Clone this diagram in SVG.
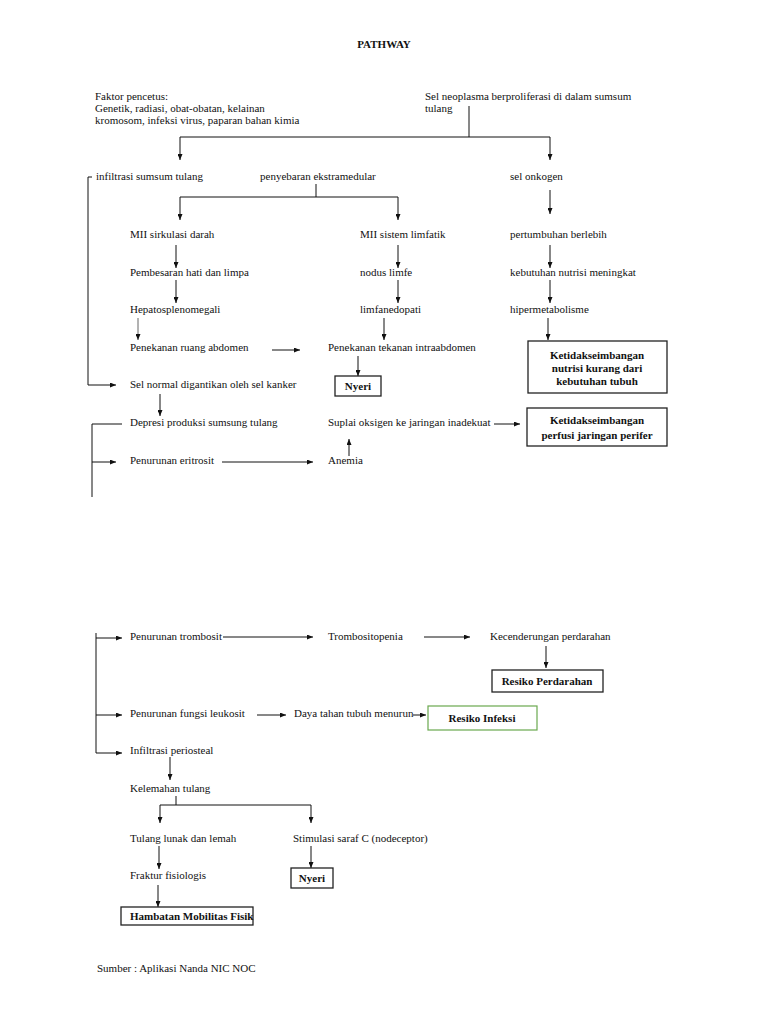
<svg xmlns="http://www.w3.org/2000/svg" width="768" height="1024" viewBox="0 0 768 1024">
<style>
text{font-family:"Liberation Serif","Times New Roman",serif;font-size:11px;fill:#111}
.b{font-weight:bold}
.c{text-anchor:middle}
.ln{fill:none;stroke:#111;stroke-width:1}
.ar{fill:none;stroke:#111;stroke-width:1;marker-end:url(#ah)}
.box{fill:#fff;stroke:#222;stroke-width:1.3}
</style>
<defs>
<marker id="ah" markerUnits="userSpaceOnUse" markerWidth="6" markerHeight="5" refX="6" refY="2.5" orient="auto">
<path d="M0,0 L6,2.5 L0,5 z" fill="#111"/>
</marker>
</defs>
<rect width="768" height="1024" fill="#fff"/>
<text class="b c" x="384" y="48">PATHWAY</text>

<g id="connectors">
<path class="ln" d="M469,106 V137 M180,137 H550"/>
<path class="ar" d="M180,137 V160"/>
<path class="ar" d="M550,137 V160"/>
<path class="ln" d="M316,184 V197 M180,197 H398"/>
<path class="ar" d="M180,197 V220"/>
<path class="ar" d="M398,197 V220"/>
<path class="ar" d="M550,190 V214"/>
<path class="ar" d="M176,245 V268"/>
<path class="ar" d="M398,245 V268"/>
<path class="ar" d="M550,245 V268"/>
<path class="ar" d="M176,280 V303"/>
<path class="ar" d="M398,280 V303"/>
<path class="ar" d="M550,280 V303"/>
<path class="ar" d="M138,318 V340" style="stroke:#666"/>
<path class="ar" d="M384,318 V340"/>
<path class="ar" d="M548,318 V340"/>
<path class="ar" d="M272,350 H300"/>
<path class="ar" d="M358,356 V376"/>
<path class="ar" d="M92,177 H88 V385 H116"/>
<path class="ar" d="M160,394 V416"/>
<path class="ln" d="M122,424 H92 V497"/>
<path class="ar" d="M92,462 H116"/>
<path class="ar" d="M222,462 H313"/>
<path class="ar" d="M349,456 V439"/>
<path class="ar" d="M494,424 H520"/>
<path class="ln" d="M96,633 V753"/>
<path class="ar" d="M96,638 H122"/>
<path class="ar" d="M96,715 H122"/>
<path class="ar" d="M96,753 H122"/>
<path class="ar" d="M223,637 H313"/>
<path class="ar" d="M424,637 H470"/>
<path class="ar" d="M546,646 V668"/>
<path class="ar" d="M257,715 H286"/>
<path class="ar" d="M413,715 H426"/>
<path class="ar" d="M170,757 V780"/>
<path class="ln" d="M176,796 V805 M160,805 H311"/>
<path class="ar" d="M160,805 V823"/>
<path class="ar" d="M311,805 V823"/>
<path class="ar" d="M159,846 V869"/>
<path class="ar" d="M311,846 V868"/>
<path class="ar" d="M158,885 V907"/>
</g>

<g id="faktor"><text x="95" y="100">Faktor pencetus:</text><text x="95" y="112">Genetik, radiasi, obat-obatan, kelainan</text><text x="95" y="124">kromosom, infeksi virus, paparan bahan kimia</text></g>
<g id="neoplasma"><text x="425" y="100">Sel neoplasma berproliferasi di dalam sumsum</text><text x="425" y="112">tulang</text></g>
<g id="infiltrasi"><text x="96" y="180">infiltrasi sumsum tulang</text></g>
<g id="penyebaran"><text x="260" y="180">penyebaran ekstramedular</text></g>
<g id="onkogen"><text x="510" y="180">sel onkogen</text></g>
<g id="mii-darah"><text x="130" y="238">MII sirkulasi darah</text></g>
<g id="mii-limfatik"><text x="360" y="238">MII sistem limfatik</text></g>
<g id="pertumbuhan"><text x="510" y="238">pertumbuhan berlebih</text></g>
<g id="pembesaran"><text x="130" y="276">Pembesaran hati dan limpa</text></g>
<g id="nodus"><text x="360" y="276">nodus limfe</text></g>
<g id="kebutuhan"><text x="510" y="276">kebutuhan nutrisi meningkat</text></g>
<g id="hepato"><text x="130" y="313">Hepatosplenomegali</text></g>
<g id="limfanedopati"><text x="360" y="313">limfanedopati</text></g>
<g id="hipermetabolisme"><text x="510" y="313">hipermetabolisme</text></g>
<g id="ruang-abdomen"><text x="130" y="351">Penekanan ruang abdomen</text></g>
<g id="intraabdomen"><text x="328" y="351">Penekanan tekanan intraabdomen</text></g>
<g id="dx-nutrisi"><rect class="box" x="528" y="341" width="139" height="52"/><text class="b c" x="597" y="359">Ketidakseimbangan</text><text class="b c" x="597" y="372">nutrisi kurang dari</text><text class="b c" x="597" y="385">kebutuhan tubuh</text></g>
<g id="nyeri1"><rect class="box" x="335" y="376" width="46" height="20"/><text class="b c" x="358" y="390">Nyeri</text></g>
<g id="sel-normal"><text x="130" y="388">Sel normal digantikan oleh sel kanker</text></g>
<g id="depresi"><text x="130" y="426">Depresi produksi sumsung tulang</text></g>
<g id="suplai"><text x="328" y="426">Suplai oksigen ke jaringan inadekuat</text></g>
<g id="dx-perfusi"><rect class="box" x="527" y="408" width="140" height="38"/><text class="b c" x="597" y="424">Ketidakseimbangan</text><text class="b c" x="597" y="439">perfusi jaringan perifer</text></g>
<g id="eritrosit"><text x="130" y="464">Penurunan eritrosit</text></g>
<g id="anemia"><text x="328" y="464">Anemia</text></g>
<g id="trombosit"><text x="130" y="640">Penurunan trombosit</text></g>
<g id="trombositopenia"><text x="328" y="640">Trombositopenia</text></g>
<g id="kecenderungan"><text x="490" y="640">Kecenderungan perdarahan</text></g>
<g id="dx-perdarahan"><rect class="box" x="492" y="670" width="111" height="22"/><text class="b c" x="547" y="685">Resiko Perdarahan</text></g>
<g id="leukosit"><text x="130" y="717">Penurunan fungsi leukosit</text></g>
<g id="daya-tahan"><text x="294" y="717">Daya tahan tubuh menurun</text></g>
<g id="dx-infeksi"><rect x="428" y="706" width="109" height="24" fill="#fff" stroke="#6aa84f" stroke-width="1.2"/><text class="b c" x="482" y="722">Resiko Infeksi</text></g>
<g id="periosteal"><text x="130" y="754">Infiltrasi periosteal</text></g>
<g id="kelemahan"><text x="130" y="792">Kelemahan tulang</text></g>
<g id="tulang-lunak"><text x="130" y="842">Tulang lunak dan lemah</text></g>
<g id="stimulasi"><text x="293" y="842">Stimulasi saraf C (nodeceptor)</text></g>
<g id="fraktur"><text x="130" y="879">Fraktur fisiologis</text></g>
<g id="nyeri2"><rect class="box" x="291" y="868" width="42" height="20"/><text class="b c" x="312" y="882">Nyeri</text></g>
<g id="dx-mobilitas"><rect class="box" x="121" y="907" width="132" height="18"/><text class="b" x="130" y="920">Hambatan Mobilitas Fisik</text></g>
<text x="97" y="972">Sumber : Aplikasi Nanda NIC NOC</text>
</svg>
